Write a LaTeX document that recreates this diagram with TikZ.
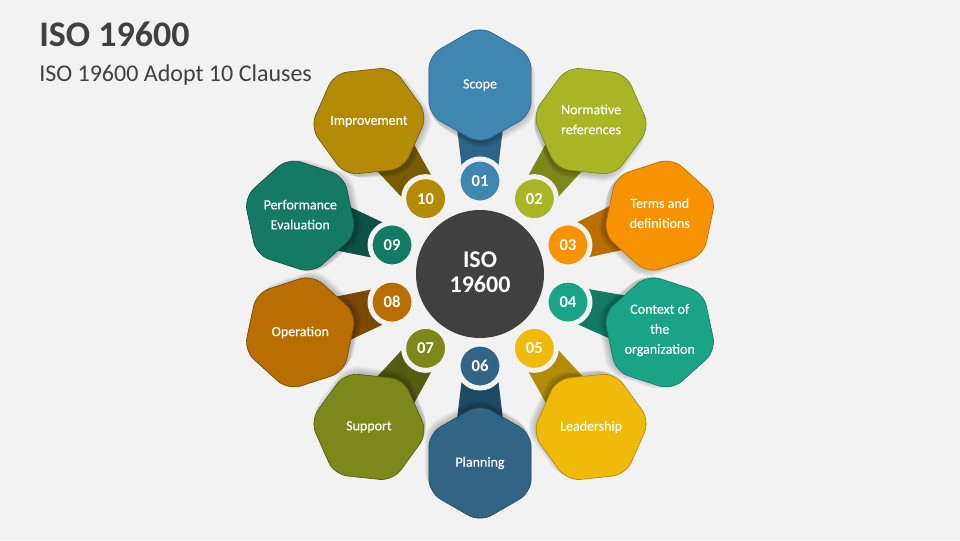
\documentclass[tikz,border=0pt]{standalone}
\usepackage{fontspec}
\setmainfont{Carlito}
\newfontfamily\lblfont[FakeBold=0.25]{Carlito}
\usetikzlibrary{calc}
\definecolor{bgc}{HTML}{F2F2F2}
\definecolor{hubc}{HTML}{404040}
\definecolor{ca}{HTML}{3F86B0}\definecolor{da}{HTML}{2C6485}
\definecolor{cb}{HTML}{A8B524}\definecolor{db}{HTML}{7D881B}
\definecolor{cc}{HTML}{F79300}\definecolor{dc}{HTML}{B96E00}
\definecolor{cd}{HTML}{1BA385}\definecolor{dd}{HTML}{147A64}
\definecolor{ce}{HTML}{EFBA0A}\definecolor{de}{HTML}{B38B07}
\definecolor{cf}{HTML}{316583}\definecolor{df}{HTML}{1F4A63}
\definecolor{cg}{HTML}{7D881B}\definecolor{dg}{HTML}{545C12}
\definecolor{ch}{HTML}{B96E00}\definecolor{dh}{HTML}{7B4900}
\definecolor{ci}{HTML}{147A64}\definecolor{di}{HTML}{0E5243}
\definecolor{cj}{HTML}{B38B07}\definecolor{dj}{HTML}{775C04}
\pgfdeclarelayer{conn}
\pgfdeclarelayer{back}
\pgfsetlayers{back,conn,main}
\newcommand{\hexpath}[1]{% #1 = circumradius in px, in a rotated scope
  ({-0.433*#1},{-0.75*#1}) -- (0,{-#1}) -- ({0.866*#1},{-0.5*#1}) -- ({0.866*#1},{0.5*#1})
  -- (0,{#1}) -- ({-0.866*#1},{0.5*#1}) -- ({-0.866*#1},{-0.5*#1}) -- cycle}
\tikzset{
  hexlabel/.style={inner sep=0pt,text=white,align=center,font=\lblfont\fontsize{10.5}{15}\selectfont},
  hexface/.style={rounded corners=10pt,line width=.5pt},
  hexshade/.style={rounded corners=10pt,fill=black,fill opacity=.04},
  numdot/.style={circle,minimum size=33pt,inner sep=0pt,line width=3.75pt,draw=bgc,
    text=white,font=\fontsize{12.5}{14}\selectfont\bfseries},
  hubdot/.style={circle,minimum size=96pt,inner sep=0pt,fill=hubc},
  hubtxt/.style={inner sep=0pt,text=white,align=center,
    font=\fontsize{18}{18.75}\selectfont\bfseries},
  titletxt/.style={anchor=base west,inner sep=0pt,text=hubc,font=\fontsize{27}{30}\selectfont\bfseries},
  subtxt/.style={anchor=base west,inner sep=0pt,text=hubc,font=\fontsize{18}{22}\selectfont}
}
\begin{document}
\begin{tikzpicture}[x=0.75pt,y=-0.75pt]
\useasboundingbox (0,0) rectangle (960,540);
\begin{pgfonlayer}{back}
\fill[bgc] (0,0) rectangle (960,540);
\end{pgfonlayer}
\node[titletxt] (title) at (39,46) {ISO 19600};
\node[subtxt] (sub) at (39,81) {ISO 19600 Adopt 10 Clauses};
\node[hubdot] (hub) at (480,274) {};
\node[hubtxt] (hubt) at (480,272) {ISO\\19600};
\foreach \n/\lab/\c/\d/\dy/\t in {
  0/01/ca/da/0/{Scope},
  1/02/cb/db/-1.7/{Normative\\references},
  2/03/cc/dc/-2.5/{Terms and\\definitions},
  3/04/cd/dd/-2.3/{Context of\\the\\organization},
  4/05/ce/de/0/{Leadership},
  5/06/cf/df/0/{Planning},
  6/07/cg/dg/0/{Support},
  7/08/ch/dh/0/{Operation},
  8/09/ci/di/-1/{Performance\\Evaluation},
  9/10/cj/dj/0.4/{Improvement}}{
  \pgfmathsetmacro{\a}{36*\n}
  \foreach \grow in {-1,0,1,2,3,4}{
    \begin{scope}[shift={($(hub)+({185.5*sin(\a)},{-185.5*cos(\a)})$)},rotate=-\a]
      \path[hexshade] \hexpath{59+\grow};
    \end{scope}
  }
  \begin{scope}[shift={($(hub)+({189*sin(\a)},{-189*cos(\a)})$)},rotate=-\a]
    \draw[hexface,fill=\c,draw=\d] \hexpath{59};
  \end{scope}
  \node[hexlabel] (h\lab) at ($(hub)+({189*sin(\a)},{-189*cos(\a)+\dy})$) {\t};
  \node[numdot,fill=\c] (n\lab) at ($(hub)+({92.5*sin(\a)},{-92.5*cos(\a)-0.5})$) {\lab};
  \begin{pgfonlayer}{conn}
    \fill[\d] ($(n\lab)!12.4pt!90:(h\lab)$) -- ($(h\lab)!21.2pt!-90:(n\lab)$)
      -- ($(h\lab)!21.2pt!90:(n\lab)$) -- ($(n\lab)!12.4pt!-90:(h\lab)$) -- cycle;
  \end{pgfonlayer}
}
\end{tikzpicture}
\end{document}
